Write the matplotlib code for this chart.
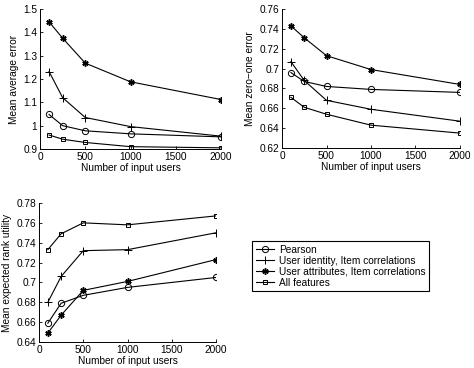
import matplotlib
matplotlib.use('Agg')
import matplotlib.pyplot as plt

plt.rcParams['font.family'] = ['Liberation Sans', 'DejaVu Sans']
plt.rcParams['font.size'] = 7.3

users = [100, 250, 500, 1000, 2000]
labels = ['Pearson', 'User identity, Item correlations',
          'User attributes, Item correlations', 'All features']
markers = ['o', '+', (6, 2, 0), 's']
msizes = [4.5, 5.5, 4.5, 3.5]

# mean average error
mae = {
    'Pearson': [1.048, 1.0, 0.978, 0.965, 0.952],
    'User identity, Item correlations': [1.232, 1.12, 1.035, 0.996, 0.955],
    'User attributes, Item correlations': [1.445, 1.375, 1.268, 1.188, 1.112],
    'All features': [0.96, 0.942, 0.928, 0.91, 0.905],
}
# mean zero-one error
zoe = {
    'Pearson': [0.696, 0.687, 0.682, 0.679, 0.676],
    'User identity, Item correlations': [0.707, 0.688, 0.668, 0.659, 0.647],
    'User attributes, Item correlations': [0.743, 0.731, 0.713, 0.699, 0.684],
    'All features': [0.671, 0.661, 0.654, 0.643, 0.635],
}
# mean expected rank utility
eru = {
    'Pearson': [0.659, 0.679, 0.687, 0.695, 0.705],
    'User identity, Item correlations': [0.680, 0.706, 0.732, 0.733, 0.750],
    'User attributes, Item correlations': [0.649, 0.667, 0.692, 0.701, 0.723],
    'All features': [0.733, 0.749, 0.760, 0.758, 0.767],
}

fig = plt.figure(figsize=(4.74, 3.68), dpi=100)
W, H = 474, 368

def add_ax(l, t, r, b):
    return fig.add_axes([l / W, 1 - b / H, (r - l) / W, (b - t) / H])

def draw(ax, data, ylim, yticks, ytl, ylabel):
    for lab, m, ms in zip(labels, markers, msizes):
        filled = m in ('+', (6, 2, 0))
        ax.plot(users, data[lab], color='black', lw=0.8, marker=m, ms=ms,
                mfc='black' if filled else 'none', mec='black',
                mew=1.1 if m == (6, 2, 0) else 0.7, label=lab)
    ax.set_xlim(0, 2000)
    ax.set_xticks([0, 500, 1000, 1500, 2000])
    ax.set_ylim(*ylim)
    ax.set_yticks(yticks)
    ax.set_yticklabels(ytl)
    ax.set_xlabel('Number of input users', labelpad=1)
    ax.set_ylabel(ylabel, labelpad=3)
    ax.spines['top'].set_visible(False)
    ax.spines['right'].set_visible(False)
    ax.tick_params(direction='in', length=2, width=0.6, pad=2)
    for s in ax.spines.values():
        s.set_linewidth(0.7)

ax1 = add_ax(40, 9, 221, 149)
draw(ax1, mae, (0.9, 1.5), [0.9, 1.0, 1.1, 1.2, 1.3, 1.4, 1.5],
     ['0.9', '1', '1.1', '1.2', '1.3', '1.4', '1.5'], 'Mean average error')

ax2 = add_ax(282, 9, 460, 148)
yt = [0.62, 0.64, 0.66, 0.68, 0.70, 0.72, 0.74, 0.76]
draw(ax2, zoe, (0.62, 0.76), yt,
     ['0.62', '0.64', '0.66', '0.68', '0.7', '0.72', '0.74', '0.76'],
     'Mean zero\u2212one error')

ax3 = add_ax(39, 203, 216, 342)
yt = [0.64, 0.66, 0.68, 0.70, 0.72, 0.74, 0.76, 0.78]
draw(ax3, eru, (0.64, 0.78), yt,
     ['0.64', '0.66', '0.68', '0.7', '0.72', '0.74', '0.76', '0.78'],
     'Mean expected rank utility')

handles, labs = ax3.get_legend_handles_labels()
leg = fig.legend(handles, labs, loc='upper left',
                 bbox_to_anchor=(252 / W, 1 - 241 / H), fancybox=False,
                 edgecolor='black', framealpha=1, handlelength=1.8,
                 borderpad=0.35, labelspacing=0.1, handletextpad=0.5,
                 borderaxespad=0)
leg.get_frame().set_linewidth(0.8)

fig.savefig('out.png', dpi=100)
